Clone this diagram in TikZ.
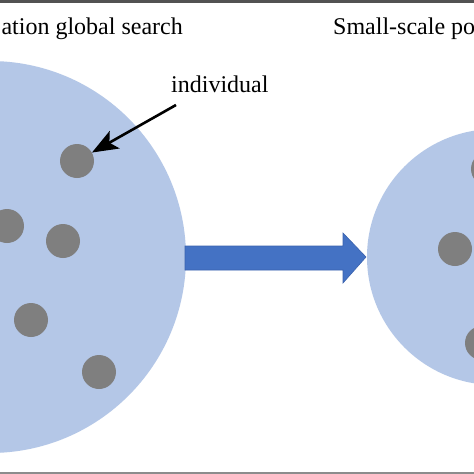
\documentclass[tikz,border=0pt]{standalone}
\usepackage{fontspec}
\setmainfont{Liberation Serif}
\usetikzlibrary{arrows.meta}
\definecolor{circfill}{HTML}{B4C7E7}
\definecolor{dotfill}{HTML}{7F7F7F}
\definecolor{arrfill}{HTML}{4472C4}
\definecolor{arrdraw}{HTML}{3A62AE}
\tikzset{
  dotnode/.style={circle,fill=dotfill,minimum size=34pt,inner sep=0pt},
  lbltext/.style={inner sep=0pt,font=\fontsize{24}{28}\selectfont},
}
\begin{document}
\begin{tikzpicture}[x=1pt,y=-1pt]
\useasboundingbox (0,0) rectangle (474,474);
\clip (0,0) rectangle (474,474);
\fill[white] (0,0) rectangle (474,474);
% frame bars
\fill[black!68] (0,0) rectangle (474,2.5);
\fill[black!45] (0,471.5) rectangle (474,474);
% titles
\node[lbltext,anchor=base east] (t1) at (183,34) {ation global search};
\node[lbltext,anchor=base west] (t2) at (333,34) {Small-scale po};
% circles
\fill[circfill] (-10,257) circle[radius=196];
\fill[circfill] (495,257) circle[radius=128];
% dots in big circle
\node[dotnode] (d1) at (77,161) {};
\node[dotnode] (d2) at (7,226) {};
\node[dotnode] (d3) at (63,241) {};
\node[dotnode] (d4) at (31,320) {};
\node[dotnode] (d5) at (99,372) {};
% dots in small circle
\node[dotnode] (e1) at (488,169) {};
\node[dotnode] (e2) at (455,249) {};
\node[dotnode] (e3) at (482,343) {};
% label
\node[lbltext,anchor=base west] (lbl) at (171,92) {individual};
\coordinate (a0) at (176,105);
\draw[line width=2.6pt,-{Stealth[length=26pt,width=20pt,inset=6pt]},shorten >=0pt] (a0) -- (d1);
% block arrow
\filldraw[fill=arrfill,draw=arrdraw,line width=0.6pt]
  (185,246) -- (343,246) -- (343,233) -- (366,257) -- (343,283) -- (343,270) -- (185,270) -- cycle;
\end{tikzpicture}
\end{document}
